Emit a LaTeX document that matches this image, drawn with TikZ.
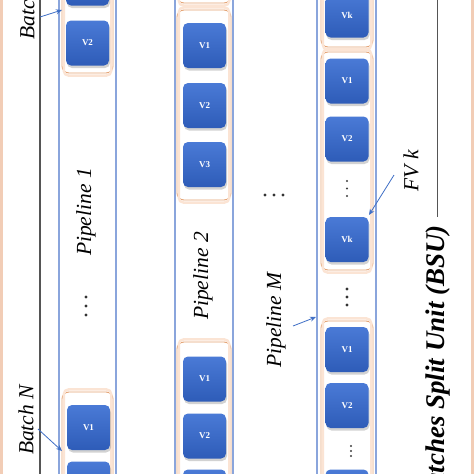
\documentclass[tikz,border=0pt]{standalone}
\usepackage{fontspec}
\setmainfont{Liberation Serif}
\usetikzlibrary{shadows,arrows.meta}
\definecolor{vtop}{HTML}{4A7AD6}
\definecolor{vbot}{HTML}{2E5CB8}
\definecolor{borange}{HTML}{E3A272}
\definecolor{bglow}{HTML}{FBE4D4}
\definecolor{pblue}{HTML}{8AA5DC}
\definecolor{arblue}{HTML}{3F6FC6}
\definecolor{peach}{HTML}{F2CDB6}
\definecolor{dgray}{HTML}{555555}
\begin{document}
\begin{tikzpicture}[x=1pt,y=-1pt,
  vbox/.style={rounded corners=5pt, minimum width=43pt, minimum height=45pt,
    top color=vtop, bottom color=vbot, draw=none, inner sep=0pt,
    drop shadow={opacity=0.35, shadow xshift=1pt, shadow yshift=-2.5pt},
    text=white, font=\bfseries\fontsize{9}{9}\selectfont},
  obox/.style={draw=borange, line width=0.9pt, rounded corners=7pt, fill=white,
    inner sep=0pt, minimum width=51pt},
  glow/.style={draw=bglow, line width=2.5pt, rounded corners=5pt},
  pline/.style={draw=pblue, line width=1.1pt},
  lbl/.style={font=\itshape\fontsize{21.5}{22}\selectfont, inner sep=0pt},
  bsu/.style={font=\bfseries\itshape\fontsize{27}{28}\selectfont, inner sep=0pt, fill=white},
  arr/.style={draw=arblue, line width=0.8pt, -{Stealth[length=6pt,width=5pt]}},
  dot/.style={circle, fill=black!80, inner sep=0pt, minimum size=3.2pt},
  sdot/.style={circle, fill=black!75, inner sep=0pt, minimum size=2.4pt}]
\useasboundingbox (0,0) rectangle (474,474);
\clip (0,0) rectangle (474,474);
\fill[white] (0,0) rectangle (474,474);
% outer frame lines
\draw[peach, line width=3pt] (1.5,-5) -- (1.5,480);
\draw[peach, line width=3pt] (472.5,-5) -- (472.5,480);
\draw[dgray, line width=1.4pt] (40,-5) -- (40,480);
\draw[dgray, line width=1.0pt] (437,-5) -- (437,217);
% pipeline column lines
\draw[pline] (59,-5) -- (59,480);
\draw[pline] (116,-5) -- (116,480);
\draw[pline] (175,-5) -- (175,480);
\draw[pline] (233,-5) -- (233,480);
\draw[pline] (317,-5) -- (317,480);
\draw[pline] (376,-5) -- (376,480);
% batch boxes
\node[obox, minimum width=51pt, minimum height=133pt] (b11) at (87.5,6.5) {};
\node[obox, minimum width=51pt, minimum height=140pt] (b1n) at (87.5,462) {};
\node[obox, minimum width=54pt, minimum height=60pt] (b20) at (204,-27) {};
\node[obox, minimum width=54pt, minimum height=190pt] (b21) at (204,105) {};
\node[obox, minimum width=54pt, minimum height=160pt] (b22) at (204,422) {};
\node[obox, minimum width=52pt, minimum height=90pt] (bm0) at (347,2) {};
\node[obox, minimum width=52pt, minimum height=218pt] (bm1) at (347,161) {};
\node[obox, minimum width=52pt, minimum height=200pt] (bm2) at (347,421) {};
\foreach \b in {b11,b1n,b20,b21,b22,bm0,bm1,bm2}{
  \draw[glow] ([shift={(2.2,-2.2)}]\b.north west) rectangle ([shift={(-2.2,2.2)}]\b.south east);
}
% pipeline 1
\node[vbox] (p1a) at (87.5,-17) {V1};
\node[vbox] (p1b) at (87.5,43) {V2};
\node[vbox] (p1c) at (88.5,427.5) {V1};
\node[vbox] (p1d) at (88.5,484) {V2};
% pipeline 2
\node[vbox] (p2a) at (204.5,45.5) {V1};
\node[vbox] (p2b) at (204.5,105.5) {V2};
\node[vbox] (p2c) at (204.5,164.5) {V3};
\node[vbox] (p2d) at (204.5,379) {V1};
\node[vbox] (p2e) at (204.5,436) {V2};
\node[vbox] (p2f) at (204.5,492) {V3};
% pipeline M
\node[vbox] (pma) at (347,15) {Vk};
\node[vbox] (pmb) at (347,81) {V1};
\node[vbox] (pmc) at (347,139) {V2};
\node[vbox] (pmd) at (347,239.5) {Vk};
\node[vbox] (pme) at (347,349.5) {V1};
\node[vbox] (pmf) at (347,405.5) {V2};
\node[vbox] (pmg) at (347,492) {Vk};
% dots
\node[dot] (d1a) at (86,297) {};
\node[dot] (d1b) at (86,306) {};
\node[dot] (d1c) at (86,315) {};
\node[dot] (d2a) at (265,195) {};
\node[dot] (d2b) at (274,195) {};
\node[dot] (d2c) at (283,195) {};
\node[sdot] (d3a) at (347,181) {};
\node[sdot] (d3b) at (347,188.5) {};
\node[sdot] (d3c) at (347,196) {};
\node[dot] (d4a) at (347,289) {};
\node[dot] (d4b) at (347,297) {};
\node[dot] (d4c) at (347,305) {};
\node[sdot] (d5a) at (351,446) {};
\node[sdot] (d5b) at (351,451) {};
\node[sdot] (d5c) at (351,456) {};
% labels
\node[lbl, rotate=90, anchor=west] (tb1) at (27,40) {Batch 1};
\node[lbl, rotate=90] (tbn) at (26,420) {Batch N};
\node[lbl, rotate=90] (tp1) at (86,212) {Pipeline 1};
\node[lbl, rotate=90] (tp2) at (203,276) {Pipeline 2};
\node[lbl, rotate=90] (tpm) at (276,320) {Pipeline M};
\node[lbl, rotate=90] (tfv) at (411,171) {FV k};
\node[bsu, rotate=90, anchor=east] (tbsu) at (438,225) {Batches Split Unit (BSU)};
% arrows
\coordinate (a1s) at (40,17);
\coordinate (a1e) at (62,10);
\coordinate (a2s) at (38,429);
\coordinate (a2e) at (62,451);
\coordinate (a3s) at (293,326);
\coordinate (a3e) at (316,317);
\coordinate (a4s) at (394,175);
\coordinate (a4e) at (369,215);
\draw[arr] (a1s) -- (a1e);
\draw[arr] (a2s) -- (a2e);
\draw[arr] (a3s) -- (a3e);
\draw[arr] (a4s) -- (a4e);
\end{tikzpicture}
\end{document}
